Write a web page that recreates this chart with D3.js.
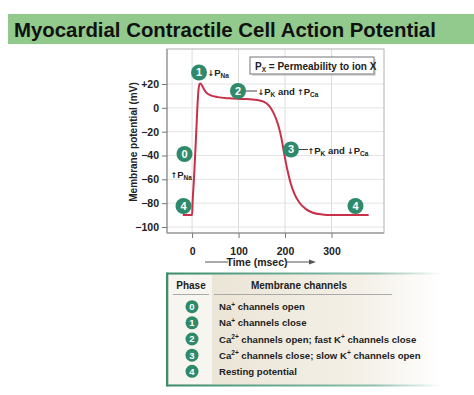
<!DOCTYPE html>
<html><head><meta charset="utf-8">
<script src="https://cdn.jsdelivr.net/npm/d3@7"></script>
<style>body{margin:0;background:#fff;}svg{display:block;font-family:"Liberation Sans",Arial,sans-serif;}</style>
</head><body><svg id="c" width="474" height="395"></svg>
<script>
// ---- data ----
const timeMs = [-20, 0, 1, 4, 9, 12, 14, 16, 18, 21, 25, 30, 40, 55, 80, 110, 140, 155, 165, 175, 185, 192, 198, 205, 212, 220, 230, 245, 260, 280, 300, 380];
const potential = [-90, -90, -80, -60, -20, 5, 16, 20, 20.5, 19, 16, 13, 10.5, 9, 8, 7.5, 6.5, 5, 2, -4, -14, -25, -38, -52, -63, -72, -79, -85, -88, -89.5, -90, -90];
const xTicks = [0, 100, 200, 300];
const yTicks = [20, 0, -20, -40, -60, -80, -100];
const yTickLabels = ["+20", "0", "\u221220", "\u221240", "\u221260", "\u221280", "\u2212100"];
const phases = ["0", "1", "2", "3", "4"];
const phaseText = [
  [["Na"], ["+", "sup"], [" channels open"]],
  [["Na"], ["+", "sup"], [" channels close"]],
  [["Ca"], ["2+", "sup"], [" channels open; fast K"], ["+", "sup"], [" channels close"]],
  [["Ca"], ["2+", "sup"], [" channels close; slow K"], ["+", "sup"], [" channels open"]],
  [["Resting potential"]]
];

const svg = d3.select("#c");
const green = "#2f8a6c", red = "#c8304a";

// title band
svg.append("rect").attr("x", 8).attr("y", 14).attr("width", 466).attr("height", 30).attr("fill", "#92c98c");
svg.append("text").attr("x", 14).attr("y", 37).attr("font-size", 20.4).attr("font-weight", "bold").attr("fill", "#111")
  .text("Myocardial Contractile Cell Action Potential");

// scales
const x = d3.scaleLinear().domain([-54, 413]).range([167, 384]);
const y = d3.scaleLinear().domain([20, -100]).range([84, 227]);
const plotTop = 49, plotBottom = 233;

// grid
const g = svg.append("g");
g.selectAll(".vg").data(xTicks).join("line").attr("x1", d => x(d)).attr("x2", d => x(d)).attr("y1", plotTop).attr("y2", plotBottom).attr("stroke", "#dcdcdc");
g.selectAll(".hg").data(yTicks).join("line").attr("x1", 167).attr("x2", 384).attr("y1", d => y(d)).attr("y2", d => y(d)).attr("stroke", "#e4e4e4");
g.append("rect").attr("x", 167).attr("y", plotTop).attr("width", 384 - 167).attr("height", plotBottom - plotTop).attr("fill", "none").attr("stroke", "#b0b0b0");

// axes
const yAxis = d3.axisLeft(y).tickValues(yTicks).tickSize(5).tickPadding(3).tickFormat((d, i) => yTickLabels[i]);
const ya = svg.append("g").attr("transform", "translate(167,0)").call(yAxis);
const xAxis = d3.axisBottom(x).tickValues(xTicks).tickSize(5).tickPadding(10);
const xa = svg.append("g").attr("transform", `translate(0,${plotBottom})`).call(xAxis);
[ya, xa].forEach(a => {
  a.select(".domain").attr("stroke", "#888");
  a.selectAll(".tick line").attr("stroke", "#777");
  a.selectAll("text").attr("font-size", 10.5).attr("font-weight", "bold").attr("fill", "#222").attr("font-family", "Liberation Sans, Arial, sans-serif");
});
ya.select(".domain").attr("d", `M0,${plotTop}V${plotBottom}`);
xa.select(".domain").attr("d", `M167,0H384`);

svg.append("text").attr("transform", "translate(137,142) rotate(-90)").attr("text-anchor", "middle")
  .attr("font-size", 10).attr("font-weight", "bold").attr("fill", "#222").text("Membrane potential (mV)");

// time label with arrows
svg.append("text").attr("x", 257).attr("y", 266).attr("text-anchor", "middle").attr("font-size", 10.5).attr("font-weight", "bold").attr("fill", "#222").text("Time (msec)");
svg.append("line").attr("x1", 205).attr("x2", 228).attr("y1", 262).attr("y2", 262).attr("stroke", "#555");
svg.append("line").attr("x1", 287).attr("x2", 310).attr("y1", 262).attr("y2", 262).attr("stroke", "#555");
svg.append("path").attr("d", "M316,262 L309,259.5 L309,264.5 Z").attr("fill", "#555");

// curve
const pts = timeMs.map((t, i) => [t, potential[i]]);
svg.append("path").datum(pts).attr("fill", "none").attr("stroke", red).attr("stroke-width", 2)
  .attr("d", d3.line().x(d => x(d[0])).y(d => y(d[1])).curve(d3.curveMonotoneX));

// helper for badge
function badge(cx, cy, label, r = 8, fs = 11) {
  svg.append("circle").attr("cx", cx).attr("cy", cy).attr("r", r).attr("fill", green);
  svg.append("text").attr("x", cx).attr("y", cy + fs * 0.36).attr("text-anchor", "middle").attr("font-size", fs).attr("font-weight", "bold").attr("fill", "#fff").text(label);
}
function perm(xp, yp, parts, fs = 10) {
  const t = svg.append("text").attr("x", xp).attr("y", yp).attr("font-size", fs).attr("font-weight", "bold").attr("fill", "#222");
  parts.forEach(p => {
    const s = t.append("tspan").text(p[0]);
    if (p[1] === "sub") s.attr("font-size", 6.5).attr("dy", 2);
    else if (p[1] === "arrow") s.attr("font-size", 8).attr("font-family", "DejaVu Sans").attr("font-weight", "bold").attr("dx", -0.5);
    else if (p[1] === "back") s.attr("dy", -2);
  });
  return t;
}

// permeability box
svg.append("rect").attr("x", 252).attr("y", 59).attr("width", 124).attr("height", 17).attr("fill", "#bbb").attr("opacity", 0.5);
svg.append("rect").attr("x", 250).attr("y", 57).attr("width", 124).attr("height", 17).attr("fill", "#fff").attr("stroke", "#777");
perm(255, 69.5, [["P"], ["X", "sub"], [" =  Permeability to ion X", "back"]]);

// annotations
badge(199, 72.5, "1");
perm(208, 76, [["\u2193", "arrow"], ["P"], ["Na", "sub"]], 9.5);
badge(238, 91, "2");
svg.append("line").attr("x1", 246).attr("x2", 257).attr("y1", 91).attr("y2", 91).attr("stroke", "#444");
perm(258, 95, [["\u2193", "arrow"], ["P"], ["K", "sub"], [" and ", "back"], ["\u2191", "arrow"], ["P"], ["Ca", "sub"]], 9.5);
badge(291, 149.5, "3");
svg.append("line").attr("x1", 299).attr("x2", 308).attr("y1", 149.5).attr("y2", 149.5).attr("stroke", "#444");
perm(308, 153.5, [["\u2191", "arrow"], ["P"], ["K", "sub"], [" and ", "back"], ["\u2193", "arrow"], ["P"], ["Ca", "sub"]], 9.5);
badge(184.5, 154, "0");
perm(171, 178, [["\u2191", "arrow"], ["P"], ["Na", "sub"]], 9.5);
badge(183.5, 206, "4");
badge(355.5, 206, "4");

// ---- table ----
const defs = svg.append("defs");
const bg = defs.append("linearGradient").attr("id", "bg").attr("x1", 0).attr("x2", 1);
bg.append("stop").attr("offset", 0).attr("stop-color", "#e8e2d2");
bg.append("stop").attr("offset", 0.7).attr("stop-color", "#f4f0e7");
bg.append("stop").attr("offset", 1).attr("stop-color", "#fff");
const gl = defs.append("linearGradient").attr("id", "gl").attr("x1", 0).attr("x2", 1);
gl.append("stop").attr("offset", 0).attr("stop-color", "#3c8f70");
gl.append("stop").attr("offset", 0.75).attr("stop-color", "#8fc0ae");
gl.append("stop").attr("offset", 1).attr("stop-color", "#fff");

svg.append("rect").attr("x", 168).attr("y", 274).attr("width", 275).attr("height", 111).attr("fill", "url(#bg)");
svg.append("rect").attr("x", 169).attr("y", 275).attr("width", 43).attr("height", 109).attr("fill", "#f7f5ef");
svg.append("rect").attr("x", 167).attr("y", 272.5).attr("width", 276).attr("height", 2).attr("fill", "url(#gl)");
svg.append("rect").attr("x", 167).attr("y", 384.5).attr("width", 276).attr("height", 2).attr("fill", "url(#gl)");
svg.append("rect").attr("x", 166).attr("y", 272.5).attr("width", 2.2).attr("height", 114).attr("fill", "#3c8f70");

svg.append("text").attr("x", 191).attr("y", 289).attr("text-anchor", "middle").attr("font-size", 10).attr("font-weight", "bold").attr("fill", "#222").text("Phase");
svg.append("line").attr("x1", 173).attr("x2", 209).attr("y1", 294.5).attr("y2", 294.5).attr("stroke", "#aaa");
svg.append("text").attr("x", 299).attr("y", 289).attr("text-anchor", "middle").attr("font-size", 10).attr("font-weight", "bold").attr("fill", "#222").text("Membrane channels");
svg.append("line").attr("x1", 214).attr("x2", 392).attr("y1", 294.5).attr("y2", 294.5).attr("stroke", "#aaa");

const rowY = d3.scalePoint().domain(phases).range([306.7, 371.3]);
phases.forEach((p, i) => {
  badge(192, rowY(p), p, 6.5, 9.5);
  const t = svg.append("text").attr("x", 219).attr("y", rowY(p) + 3.5).attr("font-size", 9.6).attr("font-weight", "bold").attr("fill", "#222");
  phaseText[i].forEach(s => {
    const ts = t.append("tspan").text(s[0]);
    if (s[1] === "sup") ts.attr("font-size", 6.5).attr("dy", -3.5);
    else if (ts.node().previousSibling && ts.node().previousSibling.getAttribute("dy") === "-3.5") ts.attr("dy", 3.5);
  });
});
</script></body></html>
